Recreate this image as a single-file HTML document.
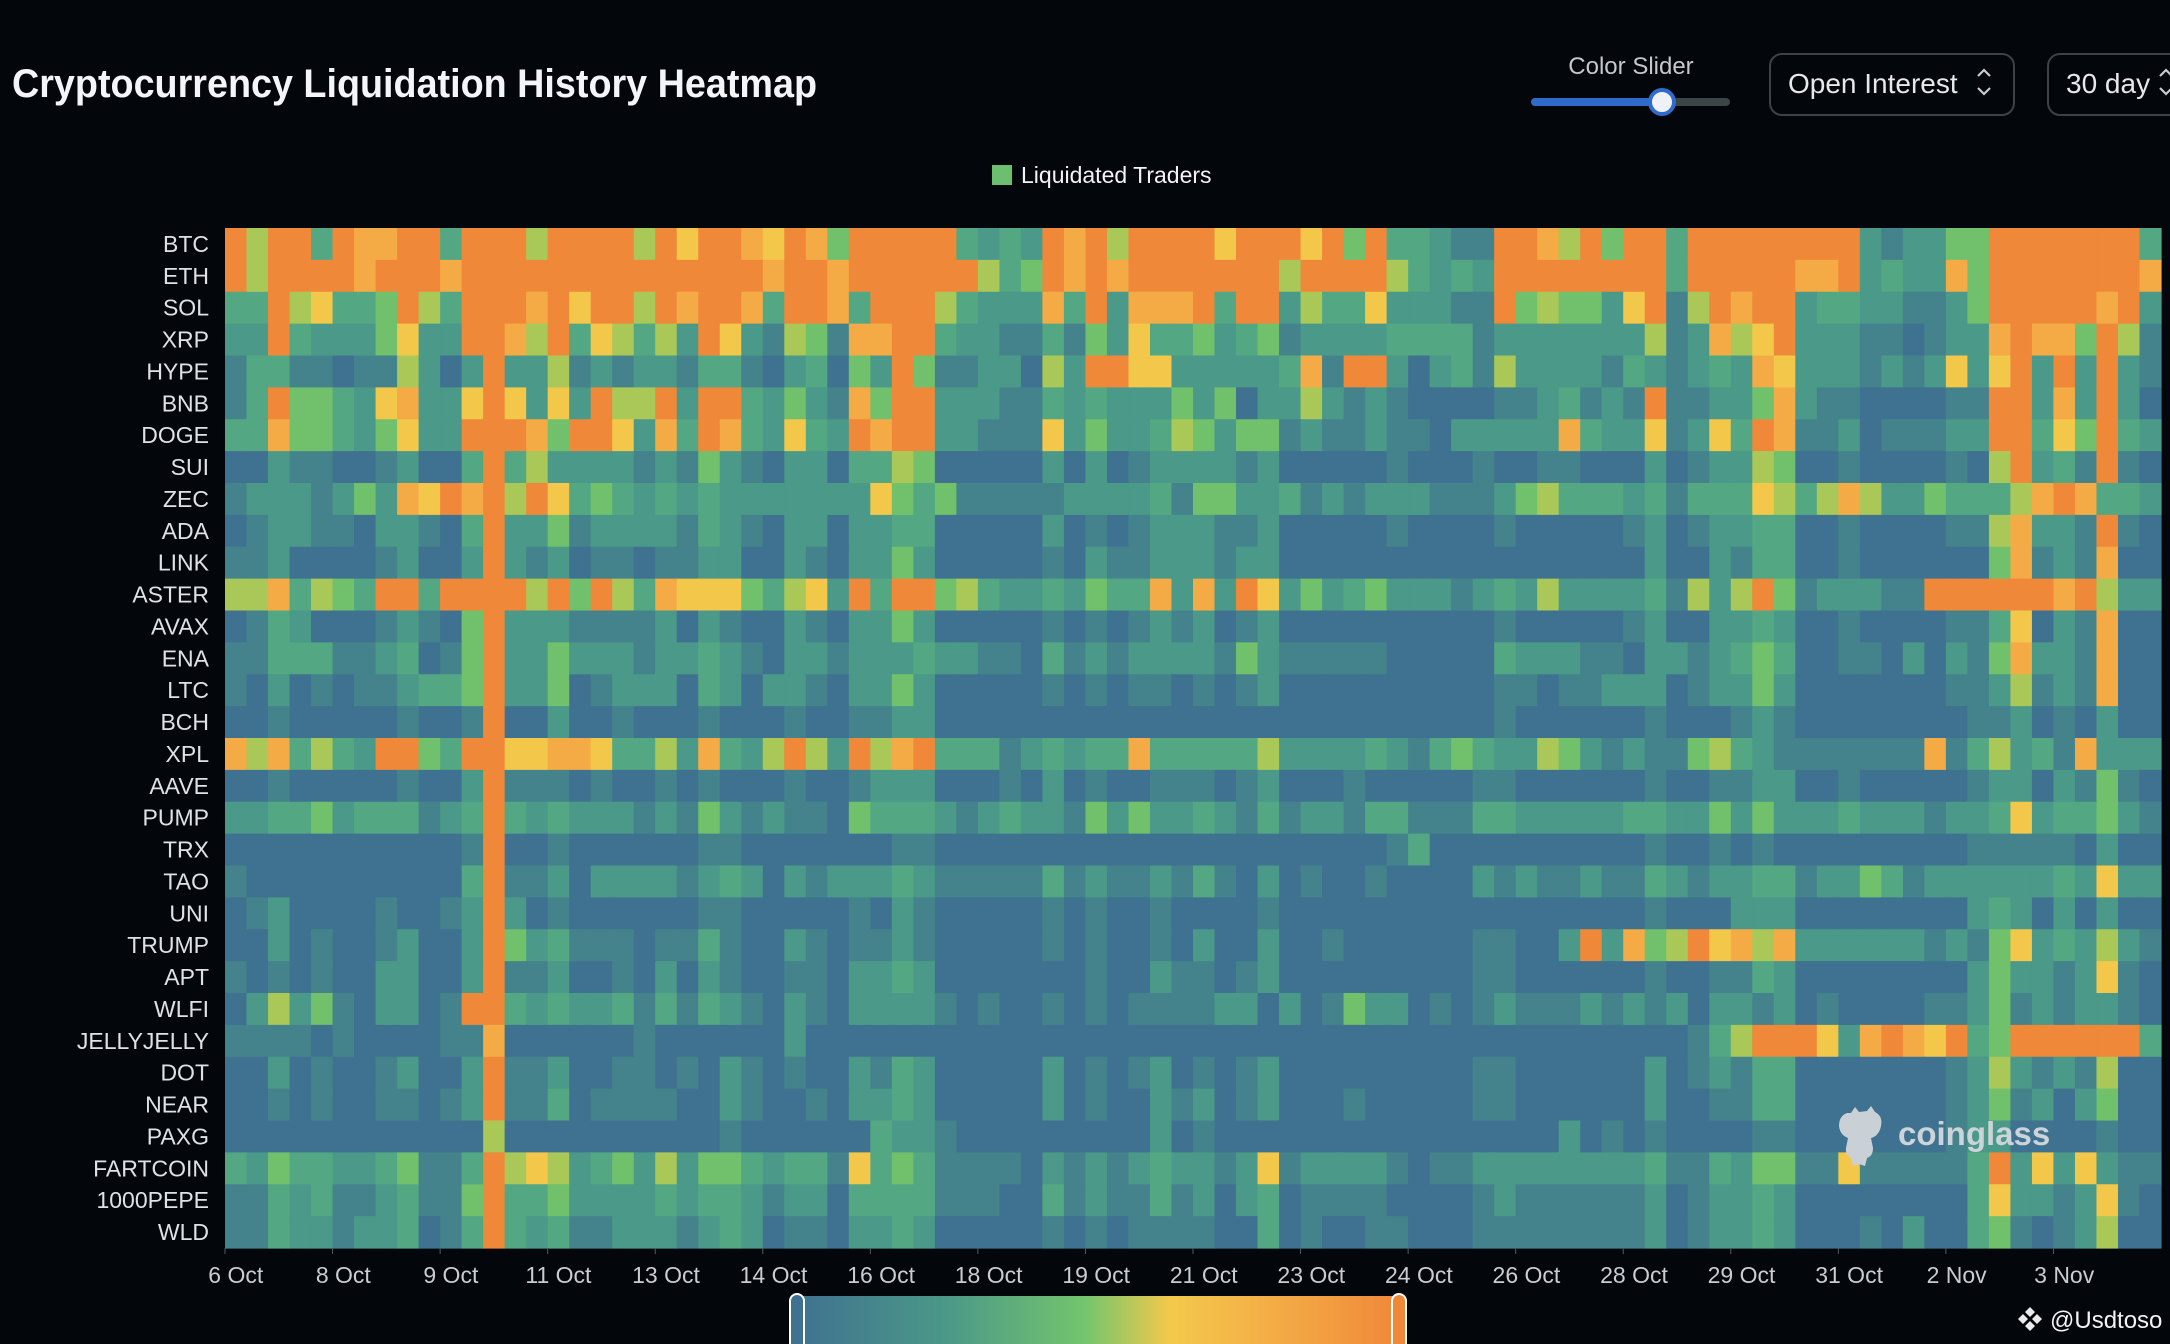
<!DOCTYPE html>
<html><head><meta charset="utf-8"><title>Cryptocurrency Liquidation History Heatmap</title>
<style>
html,body{margin:0;padding:0;background:#03060b;}
body{width:2170px;height:1344px;overflow:hidden;font-family:"Liberation Sans",sans-serif;}
svg{display:block;}
</style></head>
<body>
<svg id="chart" width="2170" height="1344" viewBox="0 0 2170 1344" xmlns="http://www.w3.org/2000/svg">
  <rect x="0" y="0" width="2170" height="1344" fill="#03060b"/>
  <text x="12" y="97" font-size="40" font-weight="bold" fill="#f4f5f8" textLength="805" lengthAdjust="spacingAndGlyphs">Cryptocurrency Liquidation History Heatmap</text>
  <g>
    <text x="1631" y="74" font-size="24" fill="#c4c8cc" text-anchor="middle">Color Slider</text>
    <rect x="1531" y="98" width="199" height="8" rx="4" fill="#3a4546"/>
    <rect x="1531" y="98" width="131" height="8" rx="4" fill="#2e6bcb"/>
    <circle cx="1662" cy="102" r="12" fill="#eef1f6" stroke="#2e6bcb" stroke-width="4"/>
  </g>
  <g>
    <rect x="1770" y="54" width="244" height="61" rx="12" fill="none" stroke="#3c4246" stroke-width="2"/>
    <text x="1788" y="93" font-size="28" fill="#e6e8ea">Open Interest</text>
    <path d="M1978 76 l6 -6 l6 6 M1978 88 l6 6 l6 -6" fill="none" stroke="#c8ccd0" stroke-width="2.2"/>
  </g>
  <g>
    <rect x="2048" y="54" width="160" height="61" rx="12" fill="none" stroke="#3c4246" stroke-width="2"/>
    <text x="2066" y="93" font-size="28" fill="#e6e8ea">30 day</text>
    <path d="M2160 76 l6 -6 l6 6 M2160 88 l6 6 l6 -6" fill="none" stroke="#c8ccd0" stroke-width="2.2"/>
  </g>
  <g>
    <rect x="992" y="165" width="20" height="20" fill="#6cbf6e"/>
    <text x="1021" y="183" font-size="23" fill="#f2f3f5">Liquidated Traders</text>
  </g>
  <g id="cells"></g>
  <g id="ylabels"></g>
  <g id="xlabels"></g>
  <g>
    <path d="M1851 1113 l4 -6 l4 5 l8 -1 l4 -5 l4 6 q8 4 6 14 q-2 10 -10 12 l2 10 q0 8 -6 10 l-2 8 l-6 -2 l-6 2 l-2 -8 q-6 -3 -5 -10 l2 -10 q-8 -3 -9 -12 q0 -10 8 -13 z" fill="#c9d1d6"/>
    <text x="1898" y="1145" font-size="33" font-weight="bold" fill="#ccd4d9">coinglass</text>
  </g>
  <defs>
    <linearGradient id="cbar" x1="0" x2="1" y1="0" y2="0">
      <stop offset="0" stop-color="#3f7290"/>
      <stop offset="0.25" stop-color="#4b9988"/>
      <stop offset="0.48" stop-color="#74c56c"/>
      <stop offset="0.62" stop-color="#f3c94b"/>
      <stop offset="0.8" stop-color="#f4ab45"/>
      <stop offset="1" stop-color="#ef8839"/>
    </linearGradient>
  </defs>
  <g>
    <rect x="798" y="1296" width="600" height="60" fill="url(#cbar)"/>
    <rect x="790" y="1294" width="14" height="60" rx="7" fill="#3f7290" stroke="#ffffff" stroke-width="2"/>
    <rect x="1392" y="1294" width="14" height="60" rx="7" fill="#ef8839" stroke="#ffffff" stroke-width="2"/>
  </g>
  <g>
    <path d="M2030 1307 l5 5 l-5 5 l-5 -5 z M2030 1321 l5 5 l-5 5 l-5 -5 z M2023 1314 l5 5 l-5 5 l-5 -5 z M2037 1314 l5 5 l-5 5 l-5 -5 z" fill="#e8eaec"/>
    <text x="2050" y="1328" font-size="24" fill="#f2f3f5">@Usdtoso</text>
  </g>
</svg>
<script>
const symbols = ["BTC","ETH","SOL","XRP","HYPE","BNB","DOGE","SUI","ZEC","ADA","LINK","ASTER","AVAX","ENA","LTC","BCH","XPL","AAVE","PUMP","TRX","TAO","UNI","TRUMP","APT","WLFI","JELLYJELLY","DOT","NEAR","PAXG","FARTCOIN","1000PEPE","WLD"];
const dateLabels = ["6 Oct","8 Oct","9 Oct","11 Oct","13 Oct","14 Oct","16 Oct","18 Oct","19 Oct","21 Oct","23 Oct","24 Oct","26 Oct","28 Oct","29 Oct","31 Oct","2 Nov","3 Nov"];
const labelEvery = 5;
// liquidation intensity level per 8h bucket (0 = low, 8 = high); 9 groups of 10 buckets per symbol
const levels = [
["8588387788","3888588885","8688768748","8888323287","8588886888","6848332118","8758488388","8888882122","4488888883"],
["8588887888","7888888888","8888878878","8888853487","8788888885","8888532328","8888888388","8887782322","7488888887"],
["3385633485","3888786885","8788738873","8885322273","8277783882","5336222118","4544268158","7882332211","2488888782"],
["2283222462","2887583653","5286215417","7883221131","4263342341","2222333312","2222225127","5682221101","2278774851"],
["1331101152","0282251212","2133102304","2841122052","8866222223","7188202315","2222132123","2762221212","6268282821"],
["1384432672","2686262855","8288324217","4882221132","3222424022","5212100001","1231218112","2472110000","1188272820"],
["3374432462","2888748862","7387326328","7882211162","4223542441","2112110222","2273226126","3871120111","2288364832"],
["0021100120","0383522221","2142102203","3540000020","2012222120","0000100010","0110002012","2540010000","1058231810"],
["1222124276","8785863432","3232222222","6434111112","2223144223","1212221112","4533323133","3653575224","3335787332"],
["0122110221","0382241222","2132102202","2330000020","1012221120","0000100001","0000012012","2330010000","1157221810"],
["1120000120","0282120110","1122002102","2420000010","2112221220","0000000000","0000002002","1330010000","0047121700"],
["5573543883","8888584853","7666435628","3884532232","4337272862","4234222123","2522223152","5841222118","8888878522"],
["0132000121","0482221111","2021002102","2420000010","1012120120","0000000001","0000012002","2320010000","1136021700"],
["1133311230","1482242221","2232102212","2232211031","2122221421","1111000003","2221102212","3430011020","2147221700"],
["1020101123","3482240122","2032022102","2420000010","1011010120","0000000001","1011222012","2420000000","1125121700"],
["0010000010","0180020010","0010001001","1220000000","0000000000","0000000001","0000001000","1210000000","0112010200"],
["7573532884","3886677633","5273258528","5783331232","3373333352","2223213432","2542121145","3211111117","1352317222"],
["0010000010","0281110100","1010001001","2220001020","1001110120","0010000011","0000001001","1220010000","0122021410"],
["2233423331","2383232221","2142121104","3332123221","4242232131","2213311133","2222233224","2422232221","2236233421"],
["0000000000","0180010000","0011000000","0110000000","0000000000","0000130000","0000001001","0100000000","0111110200"],
["1000000000","0381120222","2123202122","2321111131","2112131020","1001000021","2112113212","2331224312","2222232622"],
["0120000100","1282010000","0011000001","0210000010","1001000010","0000000000","0000001000","2220000000","0232020200"],
["0020100120","0284231110","1131002101","1210000010","1001020020","0100000011","0028274586","7572222221","2146232521"],
["1010100220","0281120010","2021001102","2320000000","1002110120","0000000011","0000001001","1320000000","0242212610"],
["0252410220","1883232231","3132102102","2221010010","1011112202","0142201012","1112121202","2120100001","1241212210"],
["1111010000","1170000001","0000002000","0000000000","0000000000","0000000000","0000000013","5888627876","8348888883"],
["0020100120","0281120011","0102101002","1320000020","1012010120","0000000011","0000002012","1330000000","1252121500"],
["0010100110","1281130111","1002100102","2320000020","1002120120","0010000011","0000002001","1330000000","1241202400"],
["0000000000","0050000000","0001000000","3221000000","0002010000","0000000000","0020101000","0110000000","1220000100"],
["3243322341","1385652342","5244323316","3431111021","2123221261","2222101122","2222223113","2441161111","1382626211"],
["1132311231","1483342222","3233212203","3331110031","2113120230","1111000012","1111112012","2320000000","0362212610"],
["1132212230","1383231122","2123201102","2320000010","1011110030","1001100011","1111112012","2320001020","0341012500"]
];
const palette = ["#3f7290","#44838c","#4b9988","#53a883","#70c06c","#a9c858","#f3c84a","#f4ab45","#ef8839"];

const plotLeft = 225, plotRight = 2161, plotTop = 228, plotBottom = 1248;
const nCols = 90;
const colW = (plotRight - plotLeft) / nCols;
const rowH = (plotBottom - plotTop) / symbols.length;
function xScale(i){ return plotLeft + i * colW; }
function yScale(r){ return plotTop + r * rowH; }
function colorOf(v){ return palette[Math.max(0, Math.min(palette.length - 1, Math.round(v)))]; }

const NS = "http://www.w3.org/2000/svg";
const cellsG = document.getElementById("cells");
const yG = document.getElementById("ylabels");
const xG = document.getElementById("xlabels");

symbols.forEach(function(sym, r){
  const row = levels[r].join("").split("").map(Number);
  for (let c = 0; c < nCols; c++) {
    const v = row[c] !== undefined && !isNaN(row[c]) ? row[c] : 0;
    const rect = document.createElementNS(NS, "rect");
    rect.setAttribute("x", xScale(c).toFixed(2));
    rect.setAttribute("y", yScale(r).toFixed(2));
    rect.setAttribute("width", (colW + 0.6).toFixed(2));
    rect.setAttribute("height", (rowH + 0.6).toFixed(2));
    rect.setAttribute("fill", colorOf(v));
    
    
    cellsG.appendChild(rect);
  }
  const t = document.createElementNS(NS, "text");
  t.setAttribute("x", 209);
  t.setAttribute("y", (yScale(r) + rowH / 2 + 8).toFixed(2));
  t.setAttribute("text-anchor", "end");
  t.setAttribute("font-size", "23");
  t.setAttribute("fill", "#dfe2e5");
  t.textContent = sym;
  
  
  yG.appendChild(t);
});

dateLabels.forEach(function(lbl, k){
  const col = k * labelEvery;
  const tick = document.createElementNS(NS, "line");
  tick.setAttribute("x1", xScale(col)); tick.setAttribute("x2", xScale(col));
  tick.setAttribute("y1", plotBottom); tick.setAttribute("y2", plotBottom + 6);
  tick.setAttribute("stroke", "#555b60");
  
  
  xG.appendChild(tick);
  const t = document.createElementNS(NS, "text");
  t.setAttribute("x", (xScale(col) + colW / 2).toFixed(2));
  t.setAttribute("y", 1283);
  t.setAttribute("text-anchor", "middle");
  t.setAttribute("font-size", "23");
  t.setAttribute("fill", "#c9cdd1");
  t.textContent = lbl;
  
  
  xG.appendChild(t);
});
</script>
</body></html>
